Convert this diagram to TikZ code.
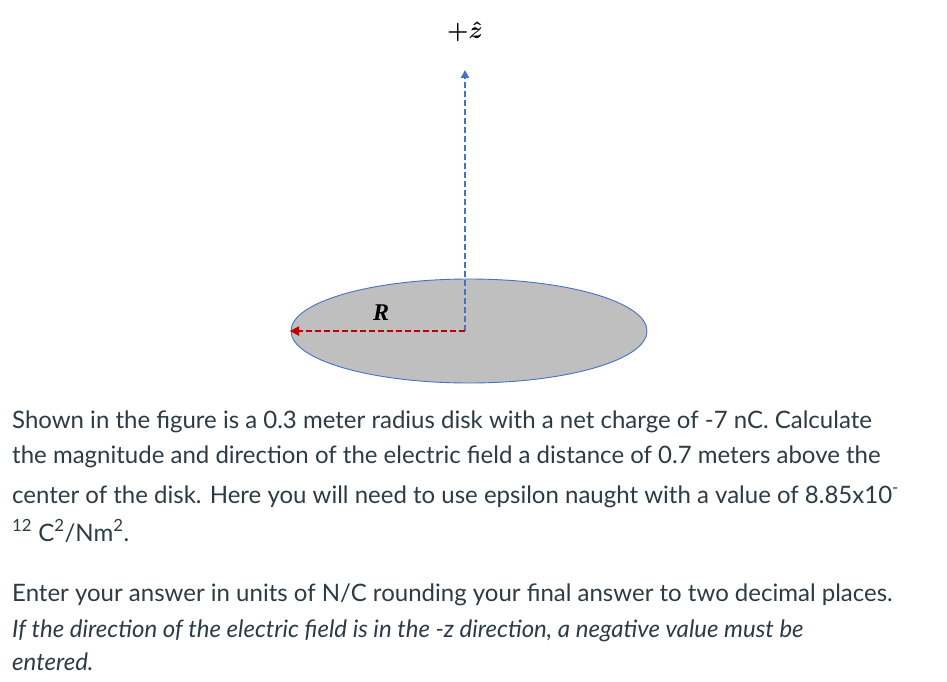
\documentclass[tikz,border=0pt]{standalone}
\usepackage{amsmath}
\usepackage{fontspec}
\setmainfont{Lato}
\newfontfamily\serifb{Liberation Serif}
\usetikzlibrary{arrows.meta,shapes.geometric}
\definecolor{diskgray}{HTML}{BFBFBF}
\definecolor{diskedge}{HTML}{4472C4}
\definecolor{zblue}{HTML}{4472C4}
\definecolor{rred}{HTML}{C00000}
\definecolor{txt}{HTML}{2D3B45}
\tikzset{
  line/.style={anchor=base west,inner sep=0pt,font=\fontsize{24}{28}\selectfont,text=txt},
  dashline/.style={dashed,dash pattern=on 6pt off 3pt,line width=2.2pt}
}
\begin{document}
\begin{tikzpicture}[x=1pt,y=-1pt]
\useasboundingbox (0,0) rectangle (947,682);
\fill[white] (0,0) rectangle (947,682);
\node[draw=diskedge,fill=diskgray,ellipse,minimum width=356pt,minimum height=104pt,inner sep=0pt,line width=0.9pt] (disk) at (469,331) {};
\coordinate (c) at (465,331);
\coordinate (ztop) at (465,70);
\coordinate (redge) at (290,331);
\draw[dashline,zblue,-{Triangle[length=8pt,width=8pt]}] (c) -- (ztop);
\draw[dashline,rred,-{Triangle[length=9pt,width=9pt]}] (c) -- (redge);
\node (z) at (465,32) {\scalebox{2.4}{$\boldsymbol{+\hat{z}}$}};
\node (r) at (381,313) {\serifb\bfseries\itshape\fontsize{24}{26}\selectfont R};
\node[line] (l1) at (12,428) {Shown in the figure is a 0.3 meter radius disk with a net charge of -7 nC. Calculate};
\node[line] (l2) at (12,463) {the magnitude and direction of the electric field a distance of 0.7 meters above the};
\node[line] (l3) at (12,503) {center of the disk. Here you will need to use epsilon naught with a value of 8.85x10\textsuperscript{-}};
\node[line] (l4) at (12,541) {\textsuperscript{12} C\textsuperscript{2}/Nm\textsuperscript{2}.};
\node[line] (l5) at (12,601) {Enter your answer in units of N/C rounding your final answer to two decimal places.};
\node[line,font=\fontsize{24}{28}\selectfont\itshape] (l6) at (12,637) {If the direction of the electric field is in the -z direction, a negative value must be};
\node[line,font=\fontsize{24}{28}\selectfont\itshape] (l7) at (12,670) {entered.};
\end{tikzpicture}
\end{document}
